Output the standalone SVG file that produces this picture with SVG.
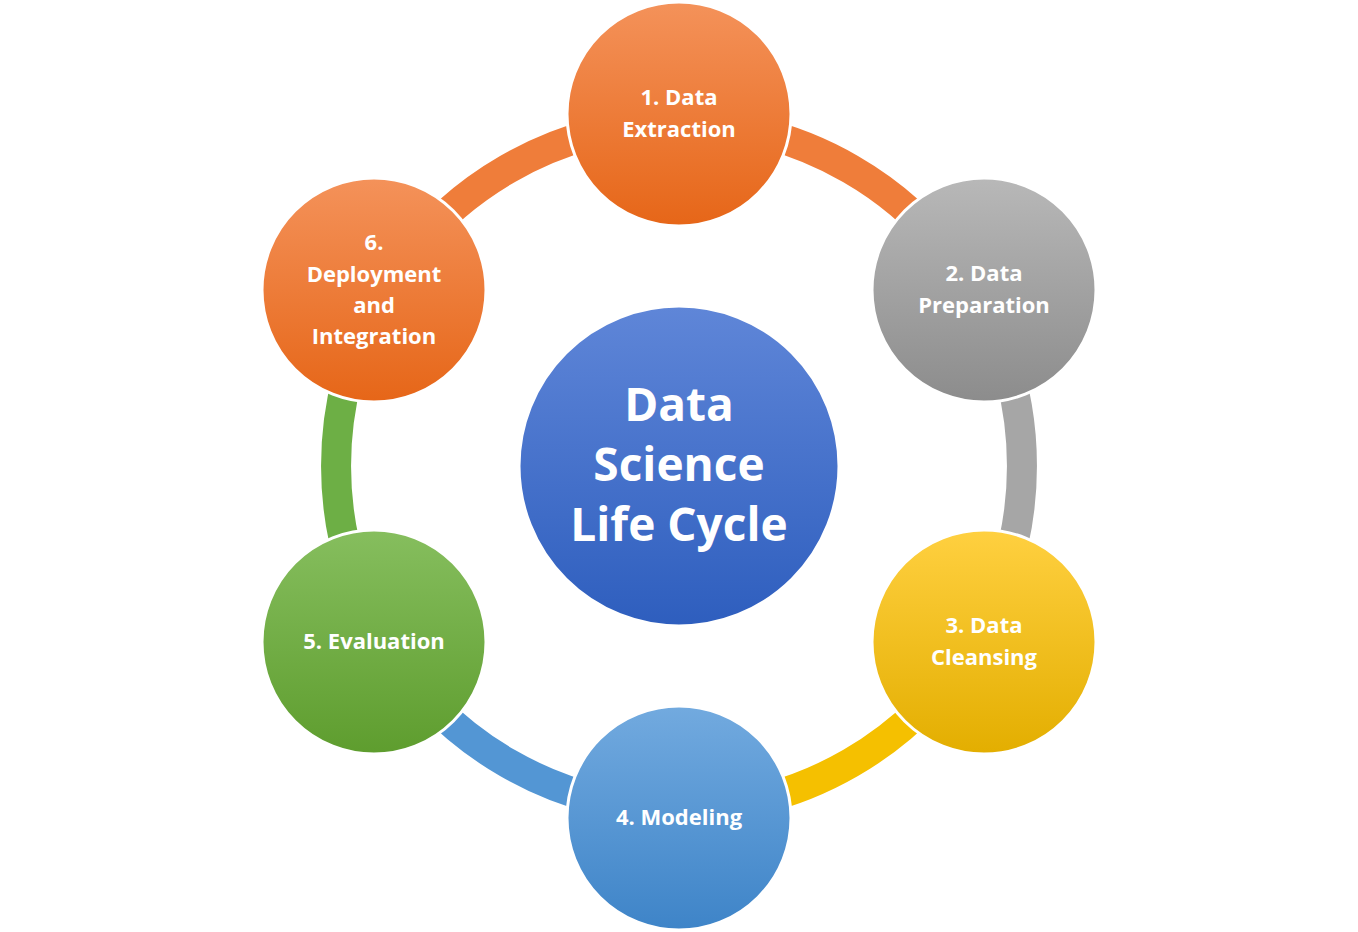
<svg xmlns="http://www.w3.org/2000/svg" width="1358" height="932" viewBox="0 0 1358 932">
<style>
.arc{fill:none;stroke-width:30}
.n{stroke:#fff;stroke-width:3}
.t{font-family:"Open Sans","Noto Sans",sans-serif;font-weight:bold;fill:#fff;text-anchor:middle;font-size:22px}
.c{font-size:46px}
</style>
<defs>
<linearGradient id="go" x1="0" y1="0" x2="0" y2="1"><stop offset="0" stop-color="#F4925A"/><stop offset="1" stop-color="#E66618"/></linearGradient>
<linearGradient id="gg" x1="0" y1="0" x2="0" y2="1"><stop offset="0" stop-color="#B8B8B8"/><stop offset="1" stop-color="#8C8C8C"/></linearGradient>
<linearGradient id="gy" x1="0" y1="0" x2="0" y2="1"><stop offset="0" stop-color="#FFD040"/><stop offset="1" stop-color="#E3AE00"/></linearGradient>
<linearGradient id="gb" x1="0" y1="0" x2="0" y2="1"><stop offset="0" stop-color="#72AADF"/><stop offset="1" stop-color="#3E84C8"/></linearGradient>
<linearGradient id="gn" x1="0" y1="0" x2="0" y2="1"><stop offset="0" stop-color="#86BE5E"/><stop offset="1" stop-color="#5E9D2E"/></linearGradient>
<linearGradient id="gc" x1="0" y1="0" x2="0" y2="1"><stop offset="0" stop-color="#5F86D8"/><stop offset="1" stop-color="#2E5EBE"/></linearGradient>
</defs>
<g id="connectors">
<path class="arc" stroke="#EF7D3A" d="M679,123 A343,343 0 0 1 976,294.5"/>
<path class="arc" stroke="#A6A6A6" d="M976,294.5 A343,343 0 0 1 976,637.5"/>
<path class="arc" stroke="#F5C000" d="M976,637.5 A343,343 0 0 1 679,809"/>
<path class="arc" stroke="#5396D4" d="M679,809 A343,343 0 0 1 382,637.5"/>
<path class="arc" stroke="#6DAF45" d="M382,637.5 A343,343 0 0 1 382,294.5"/>
<path class="arc" stroke="#EF7D3A" d="M382,294.5 A343,343 0 0 1 679,123"/>
</g>
<g id="center"><circle class="n" cx="679" cy="466" r="160" fill="url(#gc)"/>
<text class="t c" x="679" y="421">Data</text><text class="t c" x="679" y="481">Science</text><text class="t c" x="679" y="541">Life Cycle</text></g>
<g id="n1"><circle class="n" cx="679" cy="114" r="112" fill="url(#go)"/><text class="t" x="679" y="105">1. Data</text><text class="t" x="679" y="137">Extraction</text></g>
<g id="n2"><circle class="n" cx="984" cy="290" r="112" fill="url(#gg)"/><text class="t" x="984" y="281">2. Data</text><text class="t" x="984" y="313">Preparation</text></g>
<g id="n3"><circle class="n" cx="984" cy="642" r="112" fill="url(#gy)"/><text class="t" x="984" y="633">3. Data</text><text class="t" x="984" y="665">Cleansing</text></g>
<g id="n4"><circle class="n" cx="679" cy="818" r="112" fill="url(#gb)"/><text class="t" x="679" y="825">4. Modeling</text></g>
<g id="n5"><circle class="n" cx="374" cy="642" r="112" fill="url(#gn)"/><text class="t" x="374" y="649">5. Evaluation</text></g>
<g id="n6"><circle class="n" cx="374" cy="290" r="112" fill="url(#go)"/><text class="t" x="374" y="250">6.</text><text class="t" x="374" y="282">Deployment</text><text class="t" x="374" y="313">and</text><text class="t" x="374" y="344">Integration</text></g>
</svg>
